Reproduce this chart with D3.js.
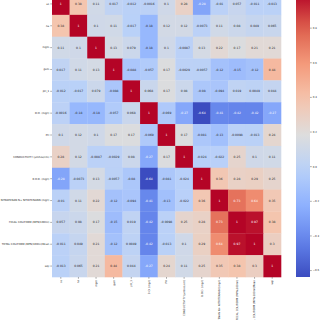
<!DOCTYPE html>
<html>
<head>
<meta charset="utf-8">
<script src="https://cdn.jsdelivr.net/npm/d3@7"></script>
<style>
  body { margin: 0; background: #fff; }
  svg { display: block; font-family: "DejaVu Sans", sans-serif; }
</style>
</head>
<body>
<svg id="chart" width="320" height="320"></svg>
<script>
// column / row names of the correlation matrix
var labels = ["so", "na", "mgm", "gum", "pH_1", "D.O. (mg/l)", "PH",
  "CONDUCTIVITY (µmhos/cm)", "B.O.D. (mg/l)", "NITRATENAN N+ NITRITENANN (mg/l)",
  "FECAL COLIFORM (MPN/100ml)", "TOTAL COLIFORM (MPN/100ml)Mean", "wqi"];

// correlation values, one row per label
var corr = [
  [1, 0.38, 0.11, 0.017, -0.012, -0.0016, 0.1, 0.28, -0.28, -0.01, 0.057, -0.011, -0.013],
  [0.38, 1, 0.1, 0.11, -0.017, -0.18, 0.12, 0.12, -0.0073, 0.11, 0.08, 0.049, 0.065],
  [0.11, 0.1, 1, 0.13, 0.079, -0.18, 0.1, -0.0087, 0.13, 0.22, 0.17, 0.21, 0.21],
  [0.017, 0.11, 0.13, 1, -0.088, -0.057, 0.17, -0.0029, -0.0057, -0.12, -0.15, -0.12, 0.44],
  [-0.012, -0.017, 0.079, -0.088, 1, 0.068, 0.17, 0.08, -0.08, -0.094, 0.019, 0.0049, 0.044],
  [-0.0016, -0.18, -0.18, -0.057, 0.068, 1, -0.069, -0.27, -0.64, -0.41, -0.42, -0.42, -0.27],
  [0.1, 0.12, 0.1, 0.17, 0.17, -0.069, 1, 0.17, -0.081, -0.13, -0.0098, -0.013, 0.24],
  [0.28, 0.12, -0.0087, -0.0029, 0.08, -0.27, 0.17, 1, -0.024, -0.022, 0.25, 0.1, 0.11],
  [-0.28, -0.0073, 0.13, -0.0057, -0.08, -0.64, -0.081, -0.024, 1, 0.36, 0.28, 0.29, 0.25],
  [-0.01, 0.11, 0.22, -0.12, -0.094, -0.41, -0.13, -0.022, 0.36, 1, 0.73, 0.64, 0.35],
  [0.057, 0.08, 0.17, -0.15, 0.019, -0.42, -0.0098, 0.25, 0.28, 0.73, 1, 0.97, 0.38],
  [-0.011, 0.049, 0.21, -0.12, 0.0049, -0.42, -0.013, 0.1, 0.29, 0.64, 0.97, 1, 0.3],
  [-0.013, 0.065, 0.21, 0.44, 0.044, -0.27, 0.24, 0.11, 0.25, 0.35, 0.38, 0.3, 1]
];

var cbarTicks = [-0.6, -0.4, -0.2, 0.0, 0.2, 0.4, 0.6, 0.8];

// coolwarm key colours (Moreland)
var coolwarm = ["#3b4cc0", "#6282ea", "#8db0fe", "#b8d0f9", "#dddddd",
                "#f5c4ad", "#f49a7b", "#de604d", "#b40426"];

var svg = d3.select("#chart");

// plot box (the figure is cropped, so the top row starts above 0)
var mLeft = 52, mRight = 281, mTop = -7, mBottom = 277;

var x = d3.scaleBand().domain(labels).range([mLeft, mRight]);
var y = d3.scaleBand().domain(labels).range([mTop, mBottom]);

var flat = [];
corr.forEach(function(row, i) {
  row.forEach(function(v, j) { flat.push({r: labels[i], c: labels[j], v: v}); });
});
var vmin = d3.min(flat, function(d) { return d.v; }),
    vmax = d3.max(flat, function(d) { return d.v; });

var interp = d3.piecewise(d3.interpolateRgb, coolwarm);
var color = function(v) { return interp((v - vmin) / (vmax - vmin)); };

// text colour like seaborn: white on dark cells
function lum(c) {
  var rgb = d3.rgb(c);
  var f = function(u) { u /= 255; return u <= 0.03928 ? u / 12.92 : Math.pow((u + 0.055) / 1.055, 2.4); };
  return 0.2126 * f(rgb.r) + 0.7152 * f(rgb.g) + 0.0722 * f(rgb.b);
}
var fmt = d3.format(".2~g");

var cells = svg.append("g");
cells.selectAll("rect")
  .data(flat)
  .enter().append("rect")
  .attr("x", function(d) { return x(d.c); })
  .attr("y", function(d) { return y(d.r); })
  .attr("width", x.bandwidth() + 0.3)
  .attr("height", y.bandwidth() + 0.3)
  .attr("fill", function(d) { return color(d.v); });

cells.selectAll("text")
  .data(flat)
  .enter().append("text")
  .attr("x", function(d) { return x(d.c) + x.bandwidth() / 2; })
  .attr("y", function(d) { return y(d.r) + y.bandwidth() / 2; })
  .attr("dy", "0.35em")
  .attr("text-anchor", "middle")
  .attr("font-size", 3)
  .attr("fill", function(d) { return lum(color(d.v)) > 0.408 ? "#262626" : "#ffffff"; })
  .text(function(d) { return fmt(d.v).replace("−", "-"); });

// axes
var yAxis = svg.append("g")
  .attr("transform", "translate(" + mLeft + ",0)")
  .call(d3.axisLeft(y).tickSize(1.8).tickPadding(1));
var xAxis = svg.append("g")
  .attr("transform", "translate(0," + mBottom + ")")
  .call(d3.axisBottom(x).tickSize(1.8).tickPadding(1));

[yAxis, xAxis].forEach(function(a) {
  a.select(".domain").remove();
  a.selectAll(".tick line").attr("stroke", "#333").attr("stroke-width", 0.4);
  a.selectAll(".tick text").attr("font-size", 2.6).attr("fill", "#262626")
    .attr("font-family", "DejaVu Sans");
});
xAxis.selectAll(".tick text")
  .attr("transform", "rotate(-90)")
  .attr("text-anchor", "end")
  .attr("x", -3)
  .attr("y", 0)
  .attr("dy", "0.35em");

// colour bar
var cbX = 296, cbW = 14;
var cb = d3.scaleLinear().domain([vmin, vmax]).range([mBottom, mTop]);
var defs = svg.append("defs");
var grad = defs.append("linearGradient").attr("id", "cbar")
  .attr("x1", 0).attr("y1", 1).attr("x2", 0).attr("y2", 0);
grad.selectAll("stop")
  .data(d3.range(0, 1.0001, 0.05))
  .enter().append("stop")
  .attr("offset", function(t) { return t; })
  .attr("stop-color", function(t) { return interp(t); });

svg.append("rect")
  .attr("x", cbX).attr("y", mTop)
  .attr("width", cbW).attr("height", mBottom - mTop)
  .attr("fill", "url(#cbar)");

var cAxis = svg.append("g")
  .attr("transform", "translate(" + (cbX + cbW) + ",0)")
  .call(d3.axisRight(cb).tickValues(cbarTicks).tickFormat(d3.format(".1f")).tickSize(1.8).tickPadding(1));
cAxis.select(".domain").remove();
cAxis.selectAll(".tick line").attr("stroke", "#333").attr("stroke-width", 0.4);
cAxis.selectAll(".tick text").attr("font-size", 2.6).attr("fill", "#262626")
  .attr("font-family", "DejaVu Sans");
</script>
</body>
</html>
